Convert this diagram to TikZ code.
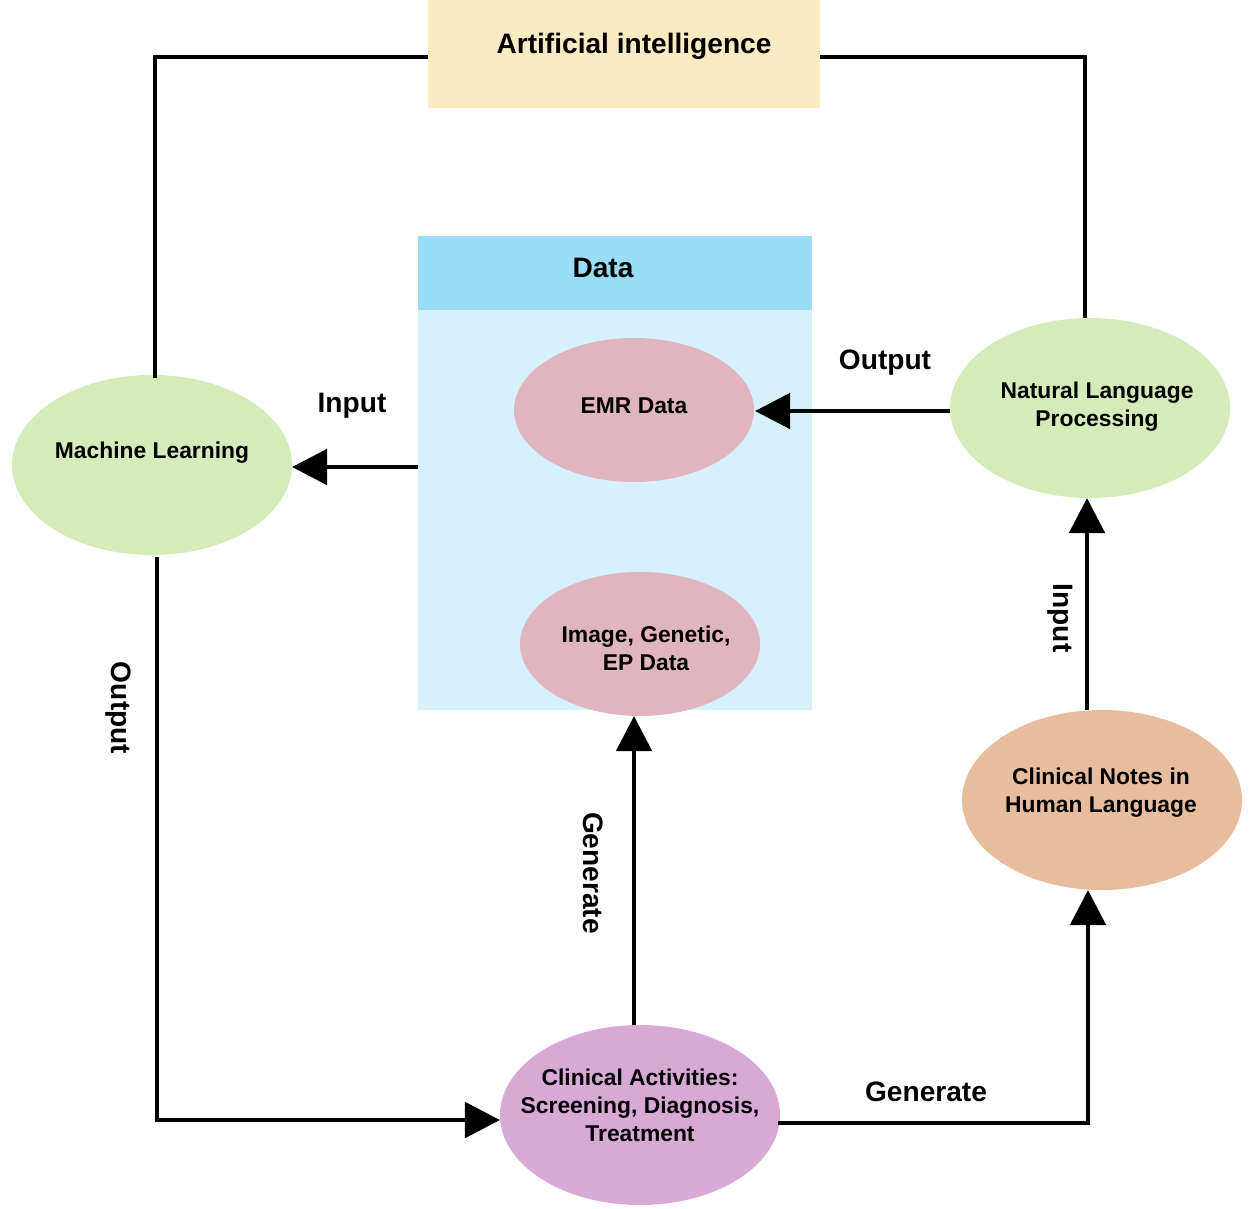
\documentclass[tikz,border=0pt]{standalone}
\usepackage{fontspec}
\setmainfont{Liberation Sans}
\usetikzlibrary{arrows.meta}
\definecolor{aiy}{HTML}{FAEBC3}
\definecolor{dhead}{HTML}{9ADDF6}
\definecolor{dbody}{HTML}{D6F1FB}
\definecolor{pinkc}{HTML}{E0B5BF}
\definecolor{greenc}{HTML}{D6EBBA}
\definecolor{orc}{HTML}{E8BD9D}
\definecolor{purc}{HTML}{D8A9D5}
\begin{document}
\begin{tikzpicture}[x=0.02cm,y=-0.02cm,
  e/.style={draw=none,align=center,font=\bfseries\fontsize{13}{16}\selectfont,inner sep=0pt},
  ln/.style={line width=2.8pt,black},
  arr/.style={ln,-{Triangle[length=20pt,width=20pt]}},
  lab/.style={font=\bfseries\fontsize{16}{18}\selectfont}]
\useasboundingbox (0,0) rectangle (1250,1208);
\fill[aiy] (428,0) rectangle (820,108);
\node[lab] (ai) at (634,46) {Artificial intelligence};
\coordinate (ail) at (428,57); \coordinate (air) at (820,57);
\fill[dbody] (418,236) rectangle (812,710);
\fill[dhead] (418,236) rectangle (812,310);
\coordinate (dl) at (418,467);
\node[lab] (data) at (603,268) {Data};
\fill[pinkc] (634,410) ellipse [x radius=120,y radius=72];
\node[e] (emr) at (634,406) {EMR Data};
\coordinate (emrR) at (755,411);
\fill[pinkc] (640,644) ellipse [x radius=120,y radius=72];
\node[e] (img) at (646,648) {Image,\ Genetic,\\EP Data};
\coordinate (imgB) at (634,716);
\fill[greenc] (152,465) ellipse [x radius=140,y radius=90];
\node[e] (ml) at (152,453) {Machine Learning};
\coordinate (mlT) at (155,378); \coordinate (mlR) at (292,467); \coordinate (mlB) at (157,557);
\fill[greenc] (1090,408) ellipse [x radius=140,y radius=90];
\node[e] (nlp) at (1097,407) {Natural Language\\Processing};
\coordinate (nlpT) at (1085,318); \coordinate (nlpL) at (950,411); \coordinate (nlpB) at (1087,498);
\fill[orc] (1102,800) ellipse [x radius=140,y radius=90];
\node[e] (cn) at (1101,793) {Clinical Notes in\\Human Language};
\coordinate (cnT) at (1087,710); \coordinate (cnB) at (1088,890);
\fill[purc] (640,1115) ellipse [x radius=140,y radius=90];
\node[e] (ca) at (640,1105) {Clinical Activities:\\Screening, Diagnosis,\\Treatment};
\coordinate (caT) at (634,1025); \coordinate (caL) at (500,1120); \coordinate (caR) at (778,1123);
\draw[ln] (ail) -- (155,57) -- (mlT);
\draw[ln] (air) -- (1085,57) -- (nlpT);
\draw[arr] (dl) -- (mlR);
\node[lab] at (352,406) {Input};
\draw[arr] (nlpL) -- (emrR);
\node[lab] at (885,363) {Output};
\draw[arr] (cnT) -- (nlpB);
\node[lab,rotate=-90] at (1060,618) {Input};
\draw[arr] (caT) -- (imgB);
\node[lab,rotate=-90] at (593,873) {Generate};
\draw[arr] (mlB) -- (157,1120) -- (caL);
\node[lab,rotate=-90] at (118,708) {Output};
\draw[arr] (caR) -- (1088,1123) -- (cnB);
\node[lab] at (926,1092) {Generate};
\end{tikzpicture}
\end{document}
